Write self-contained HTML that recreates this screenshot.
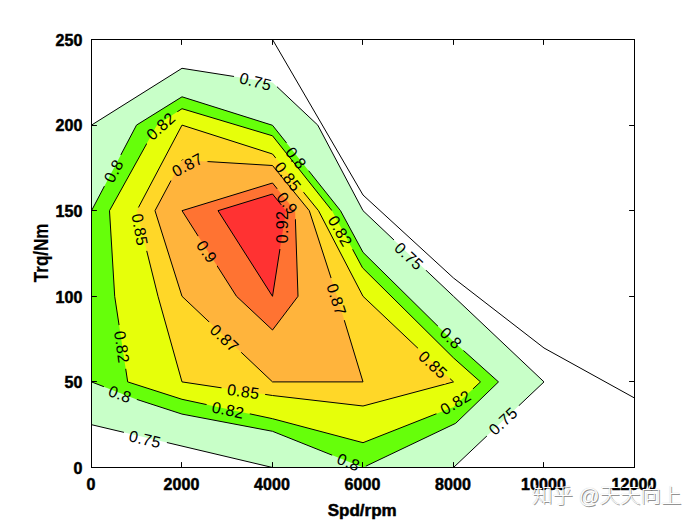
<!DOCTYPE html>
<html lang="zh"><head><meta charset="utf-8"><title>Efficiency map</title>
<style>
html,body{margin:0;padding:0;background:#fff;}
body{width:700px;height:525px;overflow:hidden;position:relative;font-family:"Liberation Sans","Noto Sans CJK SC",sans-serif;}
svg{position:absolute;left:0;top:0;display:block;}
.tick{font:bold 16px "Liberation Sans",sans-serif;fill:#000;stroke:#000;stroke-width:.5px;letter-spacing:.1px;}
.cl{font:16px "Liberation Sans",sans-serif;fill:#000;text-anchor:middle;letter-spacing:.3px;}
.ln{fill:none;stroke:#000;stroke-width:1;stroke-linejoin:miter;}
.wm{position:absolute;left:532px;top:482px;font:300 20.5px/28px "Liberation Sans","Noto Sans CJK SC",sans-serif;color:#fff;white-space:nowrap;
 text-shadow:1px 1px 0 rgba(0,0,0,.42),0 0 1px rgba(0,0,0,.3);letter-spacing:0;}
</style></head><body>
<svg width="700" height="525" viewBox="0 0 700 525">
<rect x="0" y="0" width="700" height="525" fill="#fff"/>

<defs>
<mask id="m0_75" maskUnits="userSpaceOnUse" x="0" y="0" width="700" height="525"><rect width="700" height="525" fill="#fff"/>
<rect x="233.43" y="75.00" width="44.14" height="13.00" fill="#000" transform="rotate(14 255.50 81.50)"/>
<rect x="386.93" y="249.50" width="44.14" height="13.00" fill="#000" transform="rotate(43 409.00 256.00)"/>
<rect x="122.93" y="432.70" width="44.14" height="13.00" fill="#000" transform="rotate(13 145.00 439.20)"/>
<rect x="480.93" y="414.50" width="44.14" height="13.00" fill="#000" transform="rotate(-43 503.00 421.00)"/>
</mask>
<mask id="m0_8" maskUnits="userSpaceOnUse" x="0" y="0" width="700" height="525"><rect width="700" height="525" fill="#fff"/>
<rect x="95.88" y="164.50" width="35.24" height="13.00" fill="#000" transform="rotate(-62 113.50 171.00)"/>
<rect x="278.38" y="151.50" width="35.24" height="13.00" fill="#000" transform="rotate(52 296.00 158.00)"/>
<rect x="102.38" y="387.50" width="35.24" height="13.00" fill="#000" transform="rotate(20 120.00 394.00)"/>
<rect x="330.88" y="455.50" width="35.24" height="13.00" fill="#000" transform="rotate(22 348.50 462.00)"/>
<rect x="433.38" y="331.50" width="35.24" height="13.00" fill="#000" transform="rotate(44 451.00 338.00)"/>
</mask>
<mask id="m0_82" maskUnits="userSpaceOnUse" x="0" y="0" width="700" height="525"><rect width="700" height="525" fill="#fff"/>
<rect x="138.63" y="119.70" width="44.14" height="13.00" fill="#000" transform="rotate(-42 160.70 126.20)"/>
<rect x="318.23" y="224.50" width="44.14" height="13.00" fill="#000" transform="rotate(60 340.30 231.00)"/>
<rect x="99.93" y="340.50" width="44.14" height="13.00" fill="#000" transform="rotate(82 122.00 347.00)"/>
<rect x="205.93" y="403.50" width="44.14" height="13.00" fill="#000" transform="rotate(12 228.00 410.00)"/>
<rect x="433.43" y="396.00" width="44.14" height="13.00" fill="#000" transform="rotate(-31 455.50 402.50)"/>
</mask>
<mask id="m0_85" maskUnits="userSpaceOnUse" x="0" y="0" width="700" height="525"><rect width="700" height="525" fill="#fff"/>
<rect x="265.83" y="169.90" width="44.14" height="13.00" fill="#000" transform="rotate(52 287.90 176.40)"/>
<rect x="117.83" y="223.20" width="44.14" height="13.00" fill="#000" transform="rotate(80 139.90 229.70)"/>
<rect x="221.23" y="384.80" width="44.14" height="13.00" fill="#000" transform="rotate(8 243.30 391.30)"/>
<rect x="410.93" y="358.00" width="44.14" height="13.00" fill="#000" transform="rotate(43 433.00 364.50)"/>
</mask>
<mask id="m0_87" maskUnits="userSpaceOnUse" x="0" y="0" width="700" height="525"><rect width="700" height="525" fill="#fff"/>
<rect x="165.23" y="158.30" width="44.14" height="13.00" fill="#000" transform="rotate(-28 187.30 164.80)"/>
<rect x="314.53" y="292.90" width="44.14" height="13.00" fill="#000" transform="rotate(72 336.60 299.40)"/>
<rect x="202.43" y="331.50" width="44.14" height="13.00" fill="#000" transform="rotate(43 224.50 338.00)"/>
</mask>
<mask id="m0_9" maskUnits="userSpaceOnUse" x="0" y="0" width="700" height="525"><rect width="700" height="525" fill="#fff"/>
<rect x="269.68" y="196.80" width="35.24" height="13.00" fill="#000" transform="rotate(53 287.30 203.30)"/>
<rect x="189.08" y="245.10" width="35.24" height="13.00" fill="#000" transform="rotate(55 206.70 251.60)"/>
</mask>
<mask id="m0_92" maskUnits="userSpaceOnUse" x="0" y="0" width="700" height="525"><rect width="700" height="525" fill="#fff"/>
<rect x="259.93" y="220.50" width="44.14" height="13.00" fill="#000" transform="rotate(-90 282.00 227.00)"/>
</mask>
</defs>
<polygon points="91.50,125.10 182.00,68.30 272.50,82.50 317.75,125.10 363.00,210.70 453.50,296.30 544.00,381.90 453.50,467.50 272.50,467.50 91.50,424.70" fill="#c8ffc8"/>
<polygon points="91.50,210.70 136.50,125.10 182.00,96.80 272.50,125.30 340.50,210.70 363.00,252.30 453.50,341.60 498.50,381.90 455.70,423.30 363.00,467.50 272.50,431.30 182.00,414.10 136.75,399.40 91.50,381.90" fill="#66ff0a"/>
<polygon points="109.50,210.70 157.00,125.10 182.00,108.70 272.50,135.80 332.00,210.70 362.50,267.80 453.50,357.90 480.50,381.90 453.50,407.00 363.00,442.70 272.50,418.70 182.00,399.30 127.70,381.90 114.70,296.30" fill="#e6ff0a"/>
<polygon points="136.75,210.70 182.00,125.10 272.50,154.00 318.50,210.70 363.00,296.30 453.50,381.90 363.00,406.00 272.50,395.50 182.00,381.90 158.00,296.30" fill="#ffd728"/>
<polygon points="155.00,210.70 182.00,160.00 272.50,165.50 309.30,210.70 337.00,296.30 363.00,381.90 272.50,381.90 182.00,296.30" fill="#ffb43c"/>
<polygon points="182.00,210.70 272.50,183.00 295.10,210.70 298.00,296.30 272.50,330.00 236.50,296.30" fill="#ff7332"/>
<polygon points="218.00,210.70 272.50,194.00 286.00,210.70 272.50,296.30" fill="#ff3232"/>
<g mask="url(#m0_75)">
<polyline class="ln" points="91.50,125.10 182.00,68.30 272.50,82.50 317.75,125.10 363.00,210.70 453.50,296.30 544.00,381.90 453.50,467.50"/>
<polyline class="ln" points="272.50,467.50 91.50,424.70"/>
</g>
<g mask="url(#m0_8)">
<polyline class="ln" points="91.50,210.70 136.50,125.10 182.00,96.80 272.50,125.30 340.50,210.70 363.00,252.30 453.50,341.60 498.50,381.90 455.70,423.30 363.00,467.50 272.50,431.30 182.00,414.10 136.75,399.40 91.50,381.90"/>
</g>
<g mask="url(#m0_82)">
<polyline class="ln" points="109.50,210.70 157.00,125.10 182.00,108.70 272.50,135.80 332.00,210.70 362.50,267.80 453.50,357.90 480.50,381.90 453.50,407.00 363.00,442.70 272.50,418.70 182.00,399.30 127.70,381.90 114.70,296.30 109.50,210.70"/>
</g>
<g mask="url(#m0_85)">
<polyline class="ln" points="136.75,210.70 182.00,125.10 272.50,154.00 318.50,210.70 363.00,296.30 453.50,381.90 363.00,406.00 272.50,395.50 182.00,381.90 158.00,296.30 136.75,210.70"/>
</g>
<g mask="url(#m0_87)">
<polyline class="ln" points="155.00,210.70 182.00,160.00 272.50,165.50 309.30,210.70 337.00,296.30 363.00,381.90 272.50,381.90 182.00,296.30 155.00,210.70"/>
</g>
<g mask="url(#m0_9)">
<polyline class="ln" points="182.00,210.70 272.50,183.00 295.10,210.70 298.00,296.30 272.50,330.00 236.50,296.30 182.00,210.70"/>
</g>
<g mask="url(#m0_92)">
<polyline class="ln" points="218.00,210.70 272.50,194.00 286.00,210.70 272.50,296.30 218.00,210.70"/>
</g>
<polyline class="ln" points="272.50,39.50 363.00,195.00 453.50,278.00 544.00,348.00 634.50,398.00"/>
<text class="cl" x="255.50" y="87.20" transform="rotate(14 255.50 81.50)">0.75</text>
<text class="cl" x="160.70" y="131.90" transform="rotate(-42 160.70 126.20)">0.82</text>
<text class="cl" x="113.50" y="176.70" transform="rotate(-62 113.50 171.00)">0.8</text>
<text class="cl" x="187.30" y="170.50" transform="rotate(-28 187.30 164.80)">0.87</text>
<text class="cl" x="296.00" y="163.70" transform="rotate(52 296.00 158.00)">0.8</text>
<text class="cl" x="287.90" y="182.10" transform="rotate(52 287.90 176.40)">0.85</text>
<text class="cl" x="287.30" y="209.00" transform="rotate(53 287.30 203.30)">0.9</text>
<text class="cl" x="282.00" y="232.70" transform="rotate(-90 282.00 227.00)">0.92</text>
<text class="cl" x="340.30" y="236.70" transform="rotate(60 340.30 231.00)">0.82</text>
<text class="cl" x="409.00" y="261.70" transform="rotate(43 409.00 256.00)">0.75</text>
<text class="cl" x="139.90" y="235.40" transform="rotate(80 139.90 229.70)">0.85</text>
<text class="cl" x="206.70" y="257.30" transform="rotate(55 206.70 251.60)">0.9</text>
<text class="cl" x="336.60" y="305.10" transform="rotate(72 336.60 299.40)">0.87</text>
<text class="cl" x="224.50" y="343.70" transform="rotate(43 224.50 338.00)">0.87</text>
<text class="cl" x="122.00" y="352.70" transform="rotate(82 122.00 347.00)">0.82</text>
<text class="cl" x="120.00" y="399.70" transform="rotate(20 120.00 394.00)">0.8</text>
<text class="cl" x="243.30" y="397.00" transform="rotate(8 243.30 391.30)">0.85</text>
<text class="cl" x="228.00" y="415.70" transform="rotate(12 228.00 410.00)">0.82</text>
<text class="cl" x="145.00" y="444.90" transform="rotate(13 145.00 439.20)">0.75</text>
<text class="cl" x="348.50" y="467.70" transform="rotate(22 348.50 462.00)">0.8</text>
<text class="cl" x="451.00" y="343.70" transform="rotate(44 451.00 338.00)">0.8</text>
<text class="cl" x="433.00" y="370.20" transform="rotate(43 433.00 364.50)">0.85</text>
<text class="cl" x="455.50" y="408.20" transform="rotate(-31 455.50 402.50)">0.82</text>
<text class="cl" x="503.00" y="426.70" transform="rotate(-43 503.00 421.00)">0.75</text>
<rect x="91.5" y="39.5" width="543.0" height="428.0" fill="none" stroke="#000" stroke-width="1"/>
<text class="tick" text-anchor="middle" x="90.90" y="490.3">0</text>
<path d="M181.50 467.50v-5.40M181.50 39.50v5.40" stroke="#000" stroke-width="1"/>
<text class="tick" text-anchor="middle" x="181.40" y="490.3">2000</text>
<path d="M272.50 467.50v-5.40M272.50 39.50v5.40" stroke="#000" stroke-width="1"/>
<text class="tick" text-anchor="middle" x="271.90" y="490.3">4000</text>
<path d="M362.50 467.50v-5.40M362.50 39.50v5.40" stroke="#000" stroke-width="1"/>
<text class="tick" text-anchor="middle" x="362.40" y="490.3">6000</text>
<path d="M453.50 467.50v-5.40M453.50 39.50v5.40" stroke="#000" stroke-width="1"/>
<text class="tick" text-anchor="middle" x="452.90" y="490.3">8000</text>
<path d="M543.50 467.50v-5.40M543.50 39.50v5.40" stroke="#000" stroke-width="1"/>
<text class="tick" text-anchor="middle" x="543.40" y="490.3">10000</text>
<text class="tick" text-anchor="middle" x="633.90" y="490.3">12000</text>
<text class="tick" text-anchor="end" x="82.6" y="473.70">0</text>
<path d="M91.50 381.50h5.40M634.50 381.50h-5.40" stroke="#000" stroke-width="1"/>
<text class="tick" text-anchor="end" x="82.6" y="388.10">50</text>
<path d="M91.50 296.50h5.40M634.50 296.50h-5.40" stroke="#000" stroke-width="1"/>
<text class="tick" text-anchor="end" x="82.6" y="302.50">100</text>
<path d="M91.50 210.50h5.40M634.50 210.50h-5.40" stroke="#000" stroke-width="1"/>
<text class="tick" text-anchor="end" x="82.6" y="216.90">150</text>
<path d="M91.50 125.50h5.40M634.50 125.50h-5.40" stroke="#000" stroke-width="1"/>
<text class="tick" text-anchor="end" x="82.6" y="131.30">200</text>
<text class="tick" text-anchor="end" x="82.6" y="45.70">250</text>
<text class="tick" style="font-size:17px;letter-spacing:0" text-anchor="middle" x="362.2" y="516.2">Spd/rpm</text>
<text class="tick" style="font-size:17px;letter-spacing:0;stroke-width:.15px" text-anchor="middle" x="0" y="0" transform="translate(47.7 252.9) rotate(-90) scale(1 1.23)">Trq/Nm</text>
</svg>
<div class="wm">知乎 @天天向上</div>
</body></html>
